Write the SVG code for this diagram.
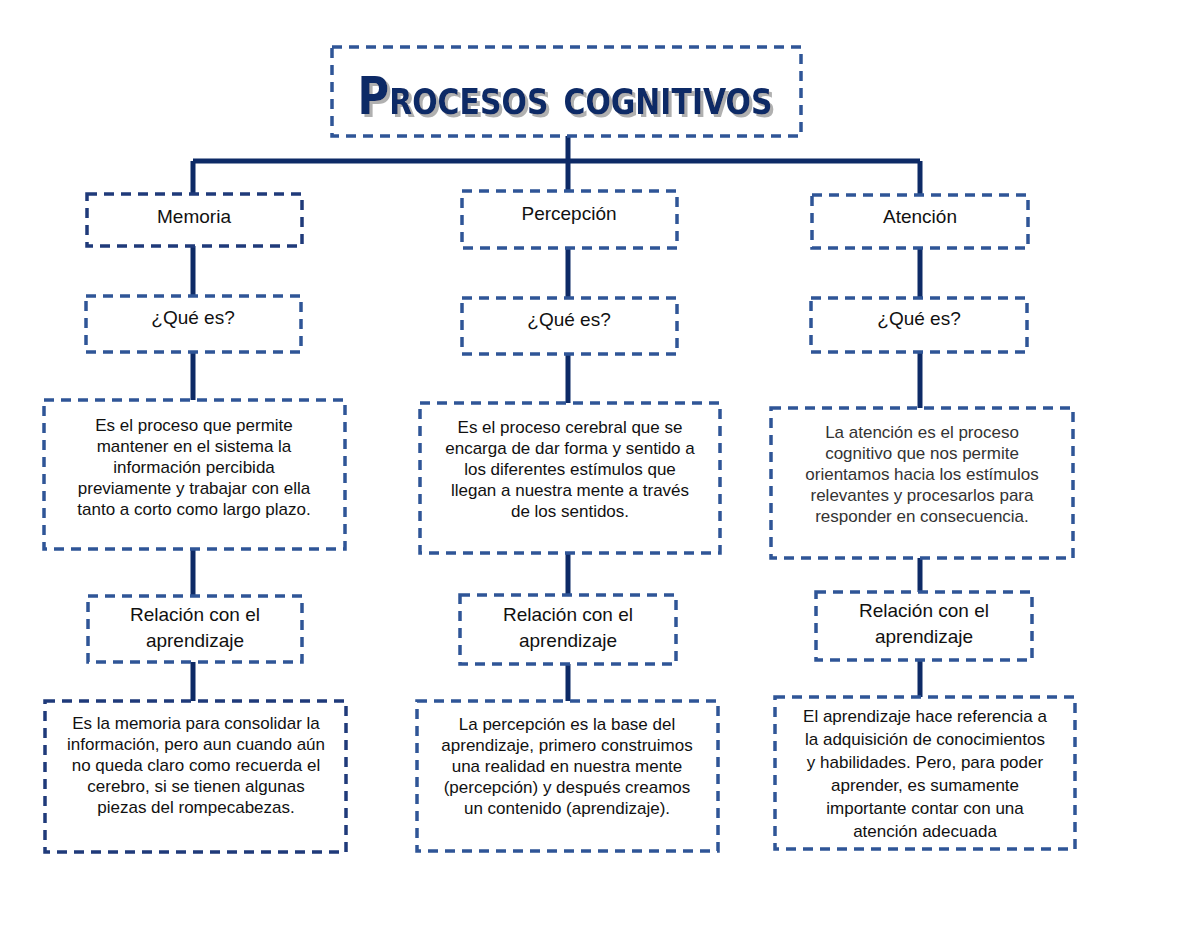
<svg xmlns="http://www.w3.org/2000/svg" width="1200" height="927" viewBox="0 0 1200 927">
<defs>
<filter id="sh" x="-5%" y="-20%" width="110%" height="140%"><feDropShadow dx="3" dy="3" stdDeviation="0.3" flood-color="#b0b0b0" flood-opacity="1"/></filter>
</defs>
<style>
.b{fill:#fff;stroke:#2f5597;stroke-width:3.5;stroke-dasharray:10 7}
.d{stroke:#1f3a7a}
.c{stroke:#0d2a66;stroke-width:5;fill:none}
.t{font-family:"Liberation Sans",Arial,sans-serif;font-size:17px;fill:#111;text-anchor:middle}
.h{font-family:"Liberation Sans",Arial,sans-serif;font-size:19px;fill:#111;text-anchor:middle}
.g{fill:#333}
.ti{font-family:"DejaVu Sans Condensed","DejaVu Sans",sans-serif;font-weight:bold;font-size:52px;font-variant:small-caps;text-anchor:middle;fill:#0d2a66}
</style>
<rect width="1200" height="927" fill="#fff"/>
<g id="connectors">
<path class="c" d="M568 136V161M193 161H920M193 161V194M568 161V191M920 161V195"/>
<path class="c" d="M193 246V296M193 352V400M193 549V596M193 662V701"/>
<path class="c" d="M568 248V298M568 354V403M568 553V595M568 664V701"/>
<path class="c" d="M920 248V298M920 352V408M920 558V592M920 660V697"/>
</g>
<g id="title">
<rect class="b" x="332" y="47" width="469" height="89"/>
<text class="ti" x="565" y="114" textLength="415" lengthAdjust="spacingAndGlyphs" filter="url(#sh)">Procesos cognitivos</text>
</g>
<g id="memoria"><rect class="b d" x="87" y="194" width="215" height="52"/><text class="h" x="194" y="223">Memoria</text></g>
<g id="mem-que"><rect class="b" x="86" y="296" width="215" height="56"/><text class="h" x="193" y="324">¿Qué es?</text></g>
<g id="mem-desc"><rect class="b" x="44" y="400" width="301" height="149"/>
<text class="t"><tspan x="194" y="431">Es el proceso que permite</tspan><tspan x="194" y="452">mantener en el sistema la</tspan><tspan x="194" y="473">información percibida</tspan><tspan x="194" y="494">previamente y trabajar con ella</tspan><tspan x="194" y="515">tanto a corto como largo plazo.</tspan></text></g>
<g id="mem-rel"><rect class="b" x="88" y="596" width="214" height="66"/><text class="h"><tspan x="195" y="621">Relación con el</tspan><tspan x="195" y="647">aprendizaje</tspan></text></g>
<g id="mem-final"><rect class="b d" x="45" y="701" width="301" height="151"/>
<text class="t"><tspan x="196" y="729">Es la memoria para consolidar la</tspan><tspan x="196" y="750">información, pero aun cuando aún</tspan><tspan x="196" y="771">no queda claro como recuerda el</tspan><tspan x="196" y="792">cerebro, si se tienen algunas</tspan><tspan x="196" y="813">piezas del rompecabezas.</tspan></text></g>

<g id="percepcion"><rect class="b" x="462" y="191" width="215" height="57"/><text class="h" x="569" y="220">Percepción</text></g>
<g id="per-que"><rect class="b" x="462" y="298" width="215" height="56"/><text class="h" x="569" y="326">¿Qué es?</text></g>
<g id="per-desc"><rect class="b" x="420" y="403" width="300" height="150"/>
<text class="t"><tspan x="570" y="433">Es el proceso cerebral que se</tspan><tspan x="570" y="454">encarga de dar forma y sentido a</tspan><tspan x="570" y="475">los diferentes estímulos que</tspan><tspan x="570" y="496">llegan a nuestra mente a través</tspan><tspan x="570" y="517">de los sentidos.</tspan></text></g>
<g id="per-rel"><rect class="b" x="460" y="595" width="216" height="69"/><text class="h"><tspan x="568" y="621">Relación con el</tspan><tspan x="568" y="647">aprendizaje</tspan></text></g>
<g id="per-final"><rect class="b" x="417" y="701" width="301" height="150"/>
<text class="t"><tspan x="567" y="730">La percepción es la base del</tspan><tspan x="567" y="751">aprendizaje, primero construimos</tspan><tspan x="567" y="772">una realidad en nuestra mente</tspan><tspan x="567" y="793">(percepción) y después creamos</tspan><tspan x="567" y="814">un contenido (aprendizaje).</tspan></text></g>

<g id="atencion"><rect class="b" x="812" y="195" width="216" height="53"/><text class="h" x="920" y="223">Atención</text></g>
<g id="ate-que"><rect class="b" x="811" y="298" width="216" height="54"/><text class="h" x="919" y="325">¿Qué es?</text></g>
<g id="ate-desc"><rect class="b" x="771" y="408" width="302" height="150"/>
<text class="t g"><tspan x="922" y="438">La atención es el proceso</tspan><tspan x="922" y="459">cognitivo que nos permite</tspan><tspan x="922" y="480">orientamos hacia los estímulos</tspan><tspan x="922" y="501">relevantes y procesarlos para</tspan><tspan x="922" y="522">responder en consecuencia.</tspan></text></g>
<g id="ate-rel"><rect class="b" x="816" y="592" width="216" height="68"/><text class="h"><tspan x="924" y="617">Relación con el</tspan><tspan x="924" y="643">aprendizaje</tspan></text></g>
<g id="ate-final"><rect class="b" x="775" y="697" width="300" height="152"/>
<text class="t"><tspan x="925" y="722">El aprendizaje hace referencia a</tspan><tspan x="925" y="745">la adquisición de conocimientos</tspan><tspan x="925" y="768">y habilidades. Pero, para poder</tspan><tspan x="925" y="791">aprender, es sumamente</tspan><tspan x="925" y="814">importante contar con una</tspan><tspan x="925" y="837">atención adecuada</tspan></text></g>
</svg>
